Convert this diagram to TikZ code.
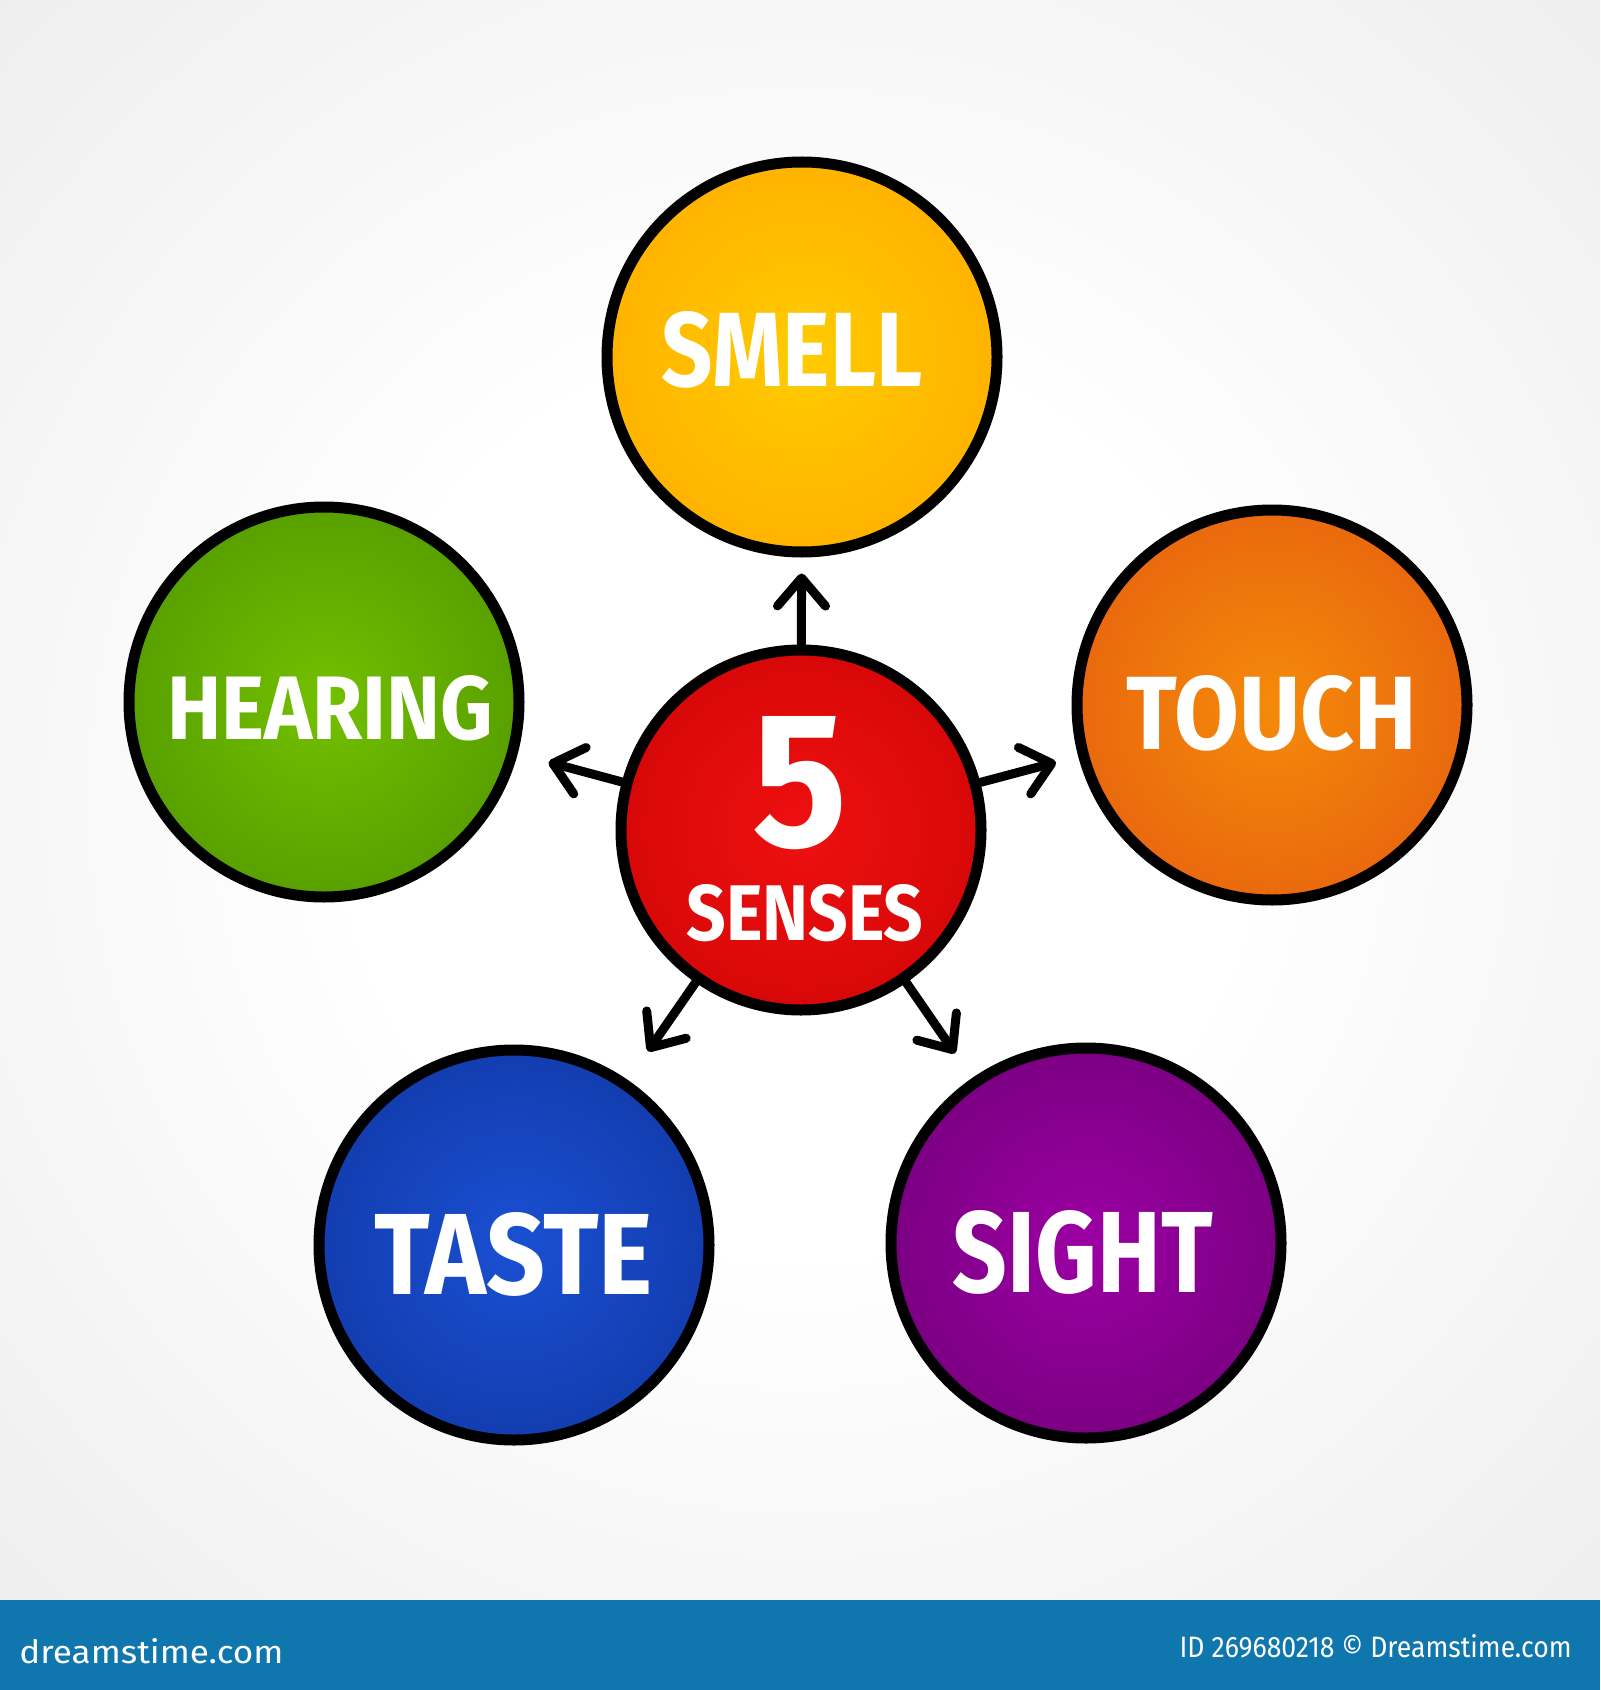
\documentclass[tikz,border=0pt]{standalone}
\usepackage{fontspec}
\setmainfont{Fira Sans}
\usetikzlibrary{arrows.meta}
\definecolor{smellA}{HTML}{FFCB00}
\definecolor{smellB}{HTML}{FF9C00}
\definecolor{hearA}{HTML}{72C000}
\definecolor{hearB}{HTML}{3F8000}
\definecolor{touchA}{HTML}{F58A0A}
\definecolor{touchB}{HTML}{DE4810}
\definecolor{tasteA}{HTML}{1A50D2}
\definecolor{tasteB}{HTML}{0B2A8E}
\definecolor{sightA}{HTML}{9C00A4}
\definecolor{sightB}{HTML}{5A0062}
\definecolor{fiveA}{HTML}{EE1010}
\definecolor{fiveB}{HTML}{C20000}
\definecolor{barblue}{HTML}{1076AE}
\colorlet{ca}{white}
\colorlet{cb}{black}
\pgfdeclareradialshading[ca,cb]{ballsoft}{\pgfpoint{0bp}{0bp}}{color(0bp)=(ca); color(50bp)=(cb)}
\pgfdeclareradialshading{bgshade}{\pgfpoint{0bp}{0bp}}{color(0bp)=(white); color(14bp)=(white); color(50bp)=(black!11)}
\tikzset{
  cols/.code 2 args={\colorlet{ca}{#1}\colorlet{cb}{#2}},
  sense/.style={circle, draw=black, line width=5.5pt, inner sep=0pt, minimum size=195pt, shading=ballsoft},
  lbl/.style={text=white, inner sep=0pt, font=\bfseries},
  arr/.style={line width=4.5pt, line cap=round, -{Straight Barb[length=14pt,width=24pt,round]}},
  barlbl/.style={text=white, inner sep=0pt},
}
\begin{document}
\begin{tikzpicture}[x=0.5pt,y=-0.5pt]
\useasboundingbox (0,0) rectangle (1600,1690);
\shade[shading=bgshade] (0,0) rectangle (1600,1600);
\fill[barblue] (0,1600) rectangle (1600,1690);

% circles
\node[sense, cols={fiveA}{fiveB}, minimum size=180pt] (c) at (801,830) {};
\node[sense, cols={smellA}{smellB}] (smell) at (802,357) {};
\node[sense, cols={hearA}{hearB}] (hearing) at (324,702) {};
\node[sense, cols={touchA}{touchB}] (touch) at (1272,705) {};
\node[sense, cols={tasteA}{tasteB}] (taste) at (514,1245) {};
\node[sense, cols={sightA}{sightB}] (sight) at (1086,1243) {};

% arrows
\draw[arr, shorten >=8pt] (c) -- (smell);
\draw[arr, shorten >=11.5pt] (c) -- (touch);
\draw[arr, shorten >=16pt] (c) -- (hearing);
\draw[arr, shorten >=17.5pt] (c) -- (taste);
\draw[arr, shorten >=15pt] (c) -- (sight);

% labels
\node[lbl] (fivetxt) at (800,783) {\resizebox{47.5pt}{65pt}{5}};
\node[lbl] (sensestxt) at (805,913) {\resizebox{118.5pt}{28pt}{SENSES}};
\node[lbl] (smelltxt) at (792,350) {\resizebox{130.5pt}{37.5pt}{SMELL}};
\node[lbl] (heartxt) at (330,708) {\resizebox{163pt}{32pt}{HEARING}};
\node[lbl] (touchtxt) at (1272,713) {\resizebox{145pt}{37pt}{TOUCH}};
\node[lbl] (tastetxt) at (514,1254) {\resizebox{139pt}{41pt}{TASTE}};
\node[lbl] (sighttxt) at (1083,1252) {\resizebox{130pt}{41pt}{SIGHT}};

% footer
\node[barlbl, anchor=west] (dtlogo) at (19,1651) {\resizebox{132pt}{12.5pt}{dreamstime.com}};
\node[barlbl, anchor=east] (dtid) at (1572,1646) {\resizebox{196pt}{11.5pt}{ID 269680218 © Dreamstime.com}};
\end{tikzpicture}
\end{document}
